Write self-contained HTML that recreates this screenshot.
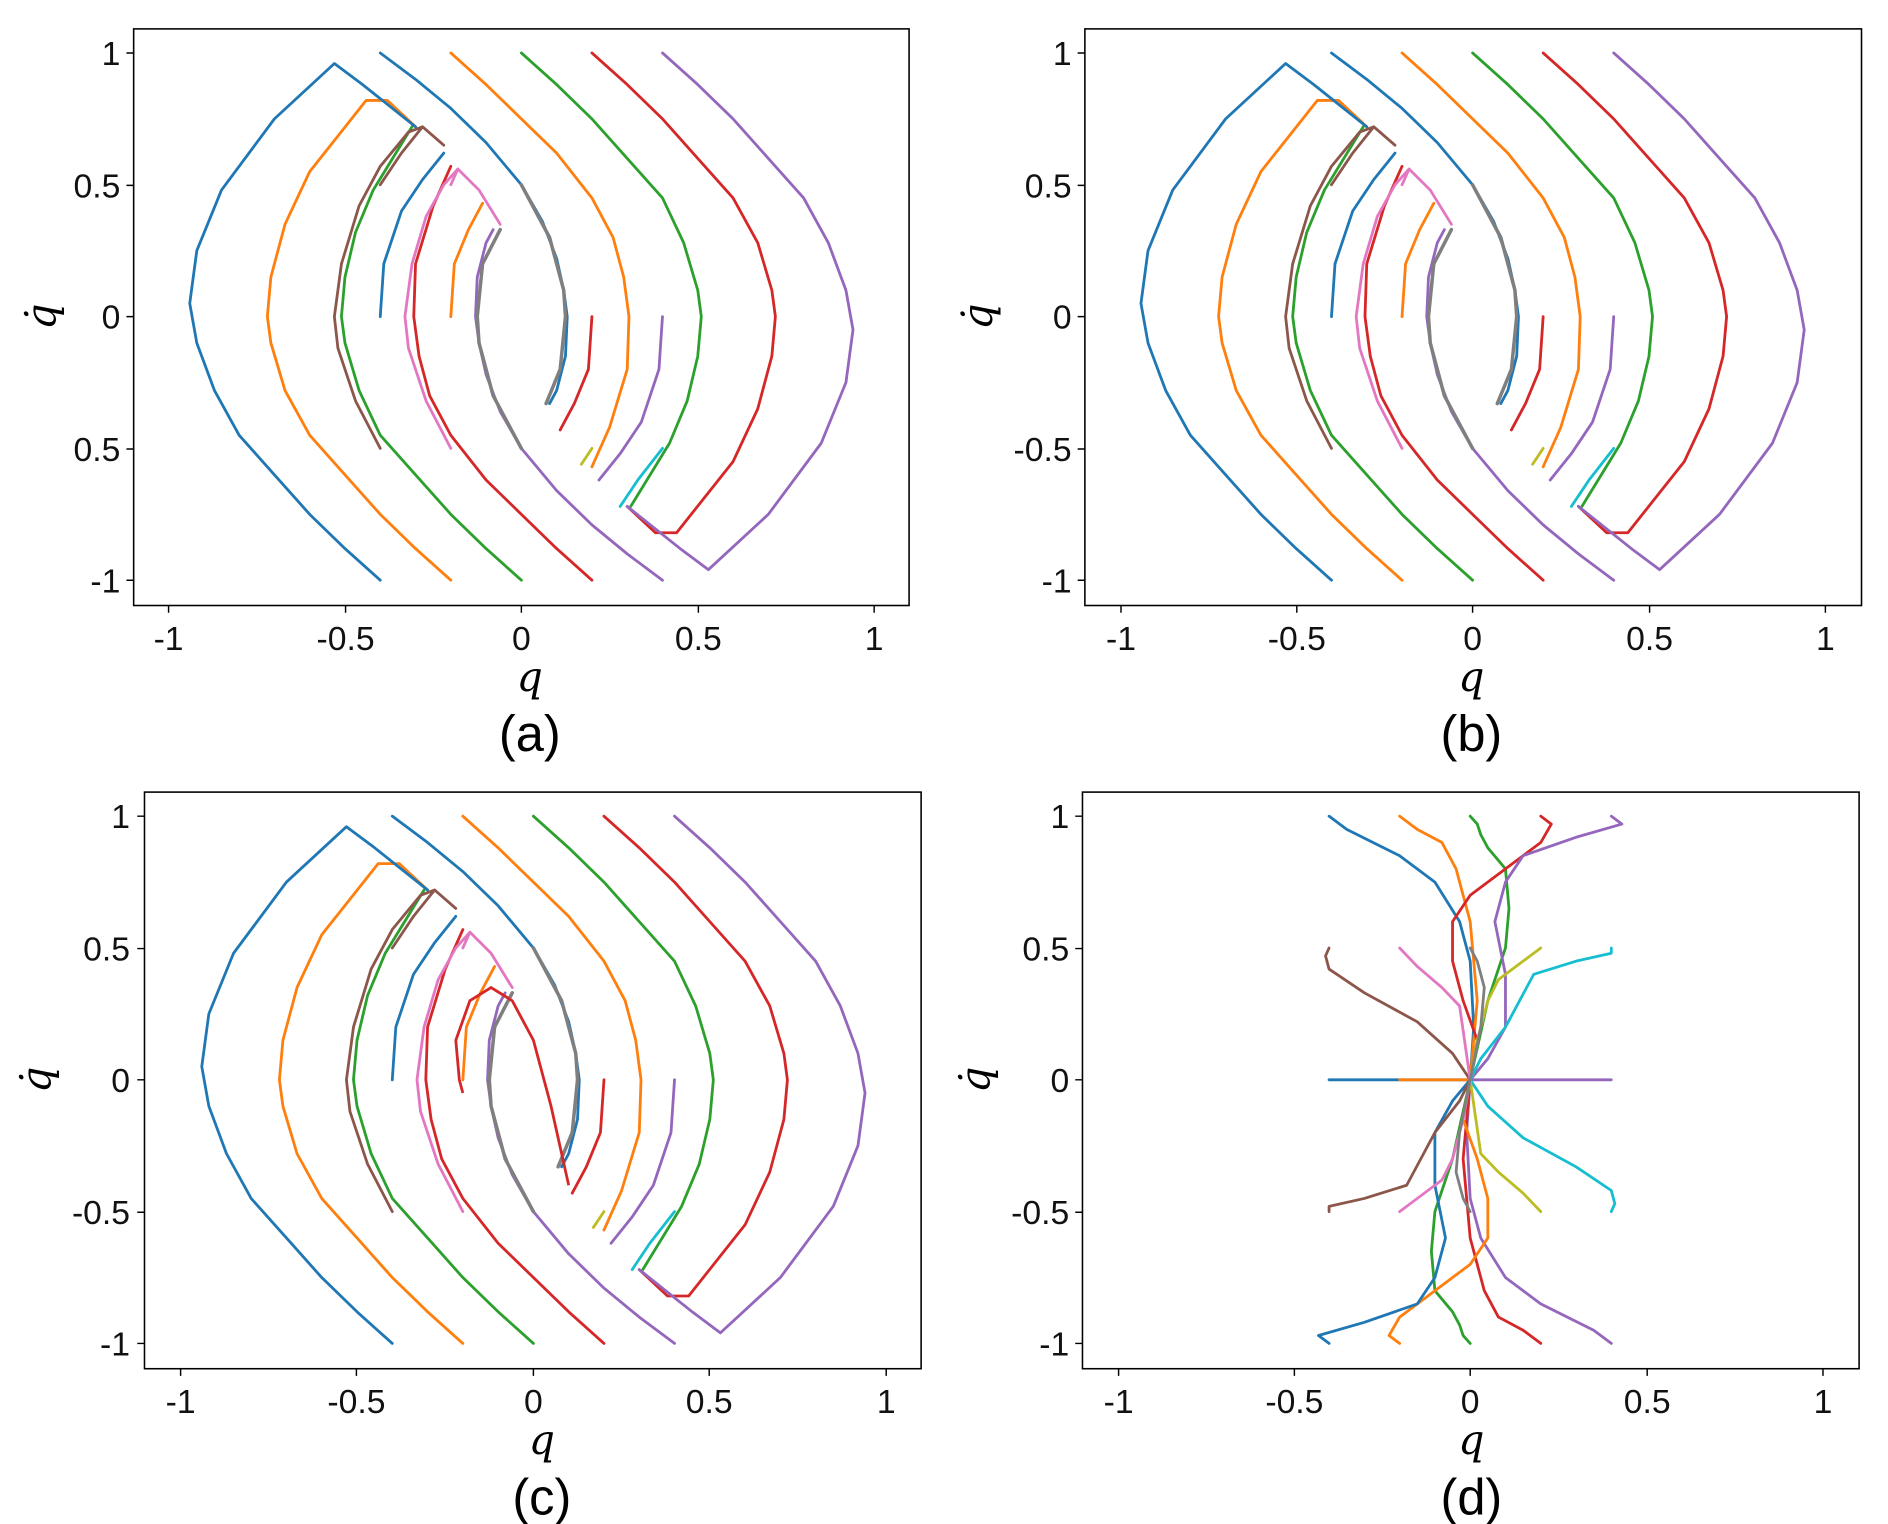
<!DOCTYPE html>
<html><head><meta charset="utf-8"><style>html,body{margin:0;padding:0;background:#fff}svg{display:block}</style></head>
<body>
<svg width="1888" height="1524" viewBox="0 0 1568 1266" preserveAspectRatio="none" xmlns="http://www.w3.org/2000/svg" font-family="'Liberation Sans','DejaVu Sans',sans-serif">
<defs>
<g id="fam" fill="none" stroke-width="2.8" stroke-linejoin="round" stroke-linecap="round">
<path vector-effect="non-scaling-stroke" stroke="#1f77b4" d="M-0.4,1 L-0.3,0.9 -0.2,0.79 -0.1,0.66 0,0.5 0.06,0.36 0.1,0.22 0.12,0.1 0.13,0 0.125,-0.15 0.1,-0.28 0.08,-0.33"/>
<path vector-effect="non-scaling-stroke" stroke="#ff7f0e" d="M-0.2,1 L-0.1,0.88 0,0.75 0.1,0.62 0.2,0.45 0.26,0.3 0.29,0.15 0.305,0 0.3,-0.2 0.25,-0.42 0.2,-0.57"/>
<path vector-effect="non-scaling-stroke" stroke="#2ca02c" d="M0,1 L0.1,0.88 0.2,0.75 0.3,0.6 0.4,0.45 0.46,0.28 0.5,0.1 0.51,0 0.5,-0.15 0.47,-0.32 0.42,-0.48 0.31,-0.72"/>
<path vector-effect="non-scaling-stroke" stroke="#d62728" d="M0.2,1 L0.3,0.88 0.4,0.75 0.5,0.6 0.6,0.45 0.67,0.28 0.71,0.1 0.72,0 0.71,-0.15 0.67,-0.35 0.6,-0.55 0.44,-0.82 0.38,-0.82 0.3,-0.72"/>
<path vector-effect="non-scaling-stroke" stroke="#9467bd" d="M0.4,1 L0.5,0.88 0.6,0.75 0.7,0.6 0.8,0.45 0.87,0.28 0.92,0.1 0.94,-0.05 0.92,-0.25 0.85,-0.48 0.7,-0.75 0.53,-0.96 0.45,-0.88 0.3,-0.72"/>
<g transform="scale(-1,-1)">
<path vector-effect="non-scaling-stroke" stroke="#9467bd" d="M-0.4,1 L-0.3,0.9 -0.2,0.79 -0.1,0.66 0,0.5 0.06,0.36 0.1,0.22 0.12,0.1 0.13,0 0.125,-0.15 0.1,-0.28 0.08,-0.33"/>
<path vector-effect="non-scaling-stroke" stroke="#d62728" d="M-0.2,1 L-0.1,0.88 0,0.75 0.1,0.62 0.2,0.45 0.26,0.3 0.29,0.15 0.305,0 0.3,-0.2 0.25,-0.42 0.2,-0.57"/>
<path vector-effect="non-scaling-stroke" stroke="#2ca02c" d="M0,1 L0.1,0.88 0.2,0.75 0.3,0.6 0.4,0.45 0.46,0.28 0.5,0.1 0.51,0 0.5,-0.15 0.47,-0.32 0.42,-0.48 0.31,-0.72"/>
<path vector-effect="non-scaling-stroke" stroke="#ff7f0e" d="M0.2,1 L0.3,0.88 0.4,0.75 0.5,0.6 0.6,0.45 0.67,0.28 0.71,0.1 0.72,0 0.71,-0.15 0.67,-0.35 0.6,-0.55 0.44,-0.82 0.38,-0.82 0.3,-0.72"/>
<path vector-effect="non-scaling-stroke" stroke="#1f77b4" d="M0.4,1 L0.5,0.88 0.6,0.75 0.7,0.6 0.8,0.45 0.87,0.28 0.92,0.1 0.94,-0.05 0.92,-0.25 0.85,-0.48 0.7,-0.75 0.53,-0.96 0.45,-0.88 0.3,-0.72"/>
<path vector-effect="non-scaling-stroke" stroke="#9467bd" d="M-0.4,0 L-0.39,0.2 -0.34,0.4 -0.28,0.52 -0.22,0.62"/>
<path vector-effect="non-scaling-stroke" stroke="#d62728" d="M-0.2,0 L-0.19,0.2 -0.15,0.33 -0.11,0.43"/>
</g>
<path vector-effect="non-scaling-stroke" stroke="#1f77b4" d="M-0.4,0 L-0.39,0.2 -0.34,0.4 -0.28,0.52 -0.22,0.62"/>
<path vector-effect="non-scaling-stroke" stroke="#ff7f0e" d="M-0.2,0 L-0.19,0.2 -0.15,0.33 -0.11,0.43"/>
<path vector-effect="non-scaling-stroke" stroke="#8c564b" d="M-0.4,-0.5 L-0.47,-0.32 -0.52,-0.12 -0.53,0 -0.51,0.2 -0.46,0.42 -0.4,0.57 -0.32,0.7 -0.28,0.72 -0.22,0.65 M-0.4,0.5 L-0.34,0.62 -0.28,0.72"/>
<path vector-effect="non-scaling-stroke" stroke="#e377c2" d="M-0.2,-0.5 L-0.27,-0.32 -0.32,-0.12 -0.33,0 -0.31,0.2 -0.27,0.38 -0.22,0.5 -0.18,0.56 -0.12,0.48 -0.06,0.35 M-0.2,0.5 L-0.18,0.56"/>
<path vector-effect="non-scaling-stroke" stroke="#7f7f7f" stroke-width="3.5" d="M0,-0.5 L-0.08,-0.3 -0.12,-0.1 -0.125,0 -0.11,0.2 -0.06,0.33 M0,0.5 L0.08,0.3 0.12,0.1 0.125,0 0.11,-0.2 0.07,-0.33"/>
<path vector-effect="non-scaling-stroke" stroke="#bcbd22" d="M0.2,-0.5 L0.17,-0.56"/>
<path vector-effect="non-scaling-stroke" stroke="#17becf" d="M0.4,-0.5 L0.33,-0.62 0.28,-0.72"/>
</g>
<g id="famd" fill="none" stroke-width="2.8" stroke-linejoin="round" stroke-linecap="round">
<path vector-effect="non-scaling-stroke" stroke="#1f77b4" d="M-0.4,0 L0,0"/>
<path vector-effect="non-scaling-stroke" stroke="#9467bd" d="M0,0 L0.4,0"/>
<path vector-effect="non-scaling-stroke" stroke="#ff7f0e" d="M-0.2,0 L0,0"/>
<path vector-effect="non-scaling-stroke" stroke="#1f77b4" d="M-0.4,1 L-0.35,0.95 -0.2,0.85 -0.1,0.75 -0.03,0.6 0,0.45 0.01,0.2 0,0"/>
<path vector-effect="non-scaling-stroke" stroke="#ff7f0e" d="M-0.2,1 L-0.15,0.95 -0.08,0.9 -0.04,0.8 0,0.6 0.02,0.3 0,0"/>
<path vector-effect="non-scaling-stroke" stroke="#2ca02c" d="M0,1 L0.02,0.97 0.03,0.93 0.05,0.88 0.1,0.8 0.11,0.65 0.1,0.5 0.05,0.3 0,0"/>
<path vector-effect="non-scaling-stroke" stroke="#d62728" d="M0.2,1 L0.23,0.97 0.2,0.9 0.1,0.8 0,0.7 -0.05,0.6 -0.05,0.45 -0.02,0.3 0.02,0.15 0,0"/>
<path vector-effect="non-scaling-stroke" stroke="#9467bd" d="M0.4,1 L0.43,0.97 0.3,0.92 0.15,0.85 0.1,0.75 0.07,0.6 0.1,0.4 0.1,0.2 0.05,0.08 0,0"/>
<path vector-effect="non-scaling-stroke" stroke="#8c564b" d="M-0.4,0.5 L-0.41,0.47 -0.4,0.42 -0.3,0.33 -0.15,0.22 -0.05,0.1 0,0"/>
<path vector-effect="non-scaling-stroke" stroke="#17becf" d="M0.4,0.5 L0.4,0.48 0.3,0.45 0.18,0.4 0.14,0.3 0.1,0.2 0.03,0.08 0,0"/>
<path vector-effect="non-scaling-stroke" stroke="#e377c2" d="M-0.2,0.5 L-0.15,0.43 -0.08,0.35 -0.03,0.28 0,0"/>
<path vector-effect="non-scaling-stroke" stroke="#bcbd22" d="M0.2,0.5 L0.15,0.45 0.08,0.38 0.05,0.3 0.02,0.15 0,0"/>
<path vector-effect="non-scaling-stroke" stroke="#7f7f7f" d="M0,0.5 L0.02,0.45 0.04,0.35 0.03,0.2 0,0"/>
<g transform="scale(-1,-1)">
<path vector-effect="non-scaling-stroke" stroke="#9467bd" d="M-0.4,1 L-0.35,0.95 -0.2,0.85 -0.1,0.75 -0.03,0.6 0,0.45 0.01,0.2 0,0"/>
<path vector-effect="non-scaling-stroke" stroke="#d62728" d="M-0.2,1 L-0.15,0.95 -0.08,0.9 -0.04,0.8 0,0.6 0.02,0.3 0,0"/>
<path vector-effect="non-scaling-stroke" stroke="#2ca02c" d="M0,1 L0.02,0.97 0.03,0.93 0.05,0.88 0.1,0.8 0.11,0.65 0.1,0.5 0.05,0.3 0,0"/>
<path vector-effect="non-scaling-stroke" stroke="#ff7f0e" d="M0.2,1 L0.23,0.97 0.2,0.9 0.1,0.8 0,0.7 -0.05,0.6 -0.05,0.45 -0.02,0.3 0.02,0.15 0,0"/>
<path vector-effect="non-scaling-stroke" stroke="#1f77b4" d="M0.4,1 L0.43,0.97 0.3,0.92 0.15,0.85 0.1,0.75 0.07,0.6 0.1,0.4 0.1,0.2 0.05,0.08 0,0"/>
<path vector-effect="non-scaling-stroke" stroke="#17becf" d="M-0.4,0.5 L-0.41,0.47 -0.4,0.42 -0.3,0.33 -0.15,0.22 -0.05,0.1 0,0"/>
<path vector-effect="non-scaling-stroke" stroke="#8c564b" d="M0.4,0.5 L0.4,0.48 0.3,0.45 0.18,0.4 0.14,0.3 0.1,0.2 0.03,0.08 0,0"/>
<path vector-effect="non-scaling-stroke" stroke="#bcbd22" d="M-0.2,0.5 L-0.15,0.43 -0.08,0.35 -0.03,0.28 0,0"/>
<path vector-effect="non-scaling-stroke" stroke="#e377c2" d="M0.2,0.5 L0.15,0.45 0.08,0.38 0.05,0.3 0.02,0.15 0,0"/>
<path vector-effect="non-scaling-stroke" stroke="#7f7f7f" d="M0,0.5 L0.02,0.45 0.04,0.35 0.03,0.2 0,0"/>
</g>
</g>
</defs>

<g>
<use href="#fam" transform="translate(433,263) scale(293,-219)"/>
<rect x="111" y="24" width="644" height="479" fill="none" stroke="#000" stroke-width="1.3"/>
<g stroke="#000" stroke-width="1.2"><path d="M140,503v6M287,503v6M433,503v6M580,503v6M726,503v6M111,44h-6M111,154h-6M111,263h-6M111,373h-6M111,482h-6"/></g>
<g font-size="28" text-anchor="middle" fill="#111"><text x="140" y="540">-1</text><text x="287" y="540">-0.5</text><text x="433" y="540">0</text><text x="580" y="540">0.5</text><text x="726" y="540">1</text></g>
<g font-size="28" text-anchor="end" fill="#111"><text x="100" y="54">1</text><text x="100" y="164">0.5</text><text x="100" y="273">0</text><text x="100" y="383">0.5</text><text x="100" y="492">-1</text></g>
<text x="440" y="574" font-size="34" font-style="italic" font-family="'DejaVu Serif',serif" text-anchor="middle">q</text>
<text x="46" y="263" font-size="34" font-style="italic" font-family="'DejaVu Serif',serif" text-anchor="middle" transform="rotate(-90 46 263)">q̇</text>
<text x="440" y="624" font-size="42" text-anchor="middle">(a)</text>
</g>

<g>
<use href="#fam" transform="translate(1223,263) scale(293,-219)"/>
<rect x="901" y="24" width="645" height="479" fill="none" stroke="#000" stroke-width="1.3"/>
<g stroke="#000" stroke-width="1.2"><path d="M931,503v6M1077,503v6M1223,503v6M1370,503v6M1516,503v6M901,44h-6M901,154h-6M901,263h-6M901,373h-6M901,482h-6"/></g>
<g font-size="28" text-anchor="middle" fill="#111"><text x="931" y="540">-1</text><text x="1077" y="540">-0.5</text><text x="1223" y="540">0</text><text x="1370" y="540">0.5</text><text x="1516" y="540">1</text></g>
<g font-size="28" text-anchor="end" fill="#111"><text x="890" y="54">1</text><text x="890" y="164">0.5</text><text x="890" y="273">0</text><text x="890" y="383">-0.5</text><text x="890" y="492">-1</text></g>
<text x="1222" y="574" font-size="34" font-style="italic" font-family="'DejaVu Serif',serif" text-anchor="middle">q</text>
<text x="824" y="263" font-size="34" font-style="italic" font-family="'DejaVu Serif',serif" text-anchor="middle" transform="rotate(-90 824 263)">q̇</text>
<text x="1222" y="624" font-size="42" text-anchor="middle">(b)</text>
</g>

<g>
<use href="#fam" transform="translate(443,897) scale(293,-219)"/>
<path transform="translate(443,897) scale(293,-219)" vector-effect="non-scaling-stroke" fill="none" stroke="#d62728" stroke-width="2.8" d="M0.1,-0.4 L0.05,-0.1 0,0.15 -0.06,0.3 -0.12,0.35 -0.18,0.3 -0.22,0.15 -0.21,0 -0.2,-0.05"/>
<rect x="120" y="658" width="645" height="479" fill="none" stroke="#000" stroke-width="1.3"/>
<g stroke="#000" stroke-width="1.2"><path d="M150,1137v6M296,1137v6M443,1137v6M589,1137v6M736,1137v6M120,678h-6M120,788h-6M120,897h-6M120,1007h-6M120,1116h-6"/></g>
<g font-size="28" text-anchor="middle" fill="#111"><text x="150" y="1174">-1</text><text x="296" y="1174">-0.5</text><text x="443" y="1174">0</text><text x="589" y="1174">0.5</text><text x="736" y="1174">1</text></g>
<g font-size="28" text-anchor="end" fill="#111"><text x="108" y="688">1</text><text x="108" y="798">0.5</text><text x="108" y="907">0</text><text x="108" y="1017">-0.5</text><text x="108" y="1126">-1</text></g>
<text x="450" y="1208" font-size="34" font-style="italic" font-family="'DejaVu Serif',serif" text-anchor="middle">q</text>
<text x="42" y="897" font-size="34" font-style="italic" font-family="'DejaVu Serif',serif" text-anchor="middle" transform="rotate(-90 42 897)">q̇</text>
<text x="450" y="1258" font-size="42" text-anchor="middle">(c)</text>
</g>

<g>
<use href="#famd" transform="translate(1221,897) scale(293,-219)"/>
<rect x="899" y="658" width="645" height="479" fill="none" stroke="#000" stroke-width="1.3"/>
<g stroke="#000" stroke-width="1.2"><path d="M929,1137v6M1075,1137v6M1221,1137v6M1368,1137v6M1514,1137v6M899,678h-6M899,788h-6M899,897h-6M899,1007h-6M899,1116h-6"/></g>
<g font-size="28" text-anchor="middle" fill="#111"><text x="929" y="1174">-1</text><text x="1075" y="1174">-0.5</text><text x="1221" y="1174">0</text><text x="1368" y="1174">0.5</text><text x="1514" y="1174">1</text></g>
<g font-size="28" text-anchor="end" fill="#111"><text x="888" y="688">1</text><text x="888" y="798">0.5</text><text x="888" y="907">0</text><text x="888" y="1017">-0.5</text><text x="888" y="1126">-1</text></g>
<text x="1222" y="1208" font-size="34" font-style="italic" font-family="'DejaVu Serif',serif" text-anchor="middle">q</text>
<text x="822" y="897" font-size="34" font-style="italic" font-family="'DejaVu Serif',serif" text-anchor="middle" transform="rotate(-90 822 897)">q̇</text>
<text x="1222" y="1258" font-size="42" text-anchor="middle">(d)</text>
</g>
</svg>
</body></html>
